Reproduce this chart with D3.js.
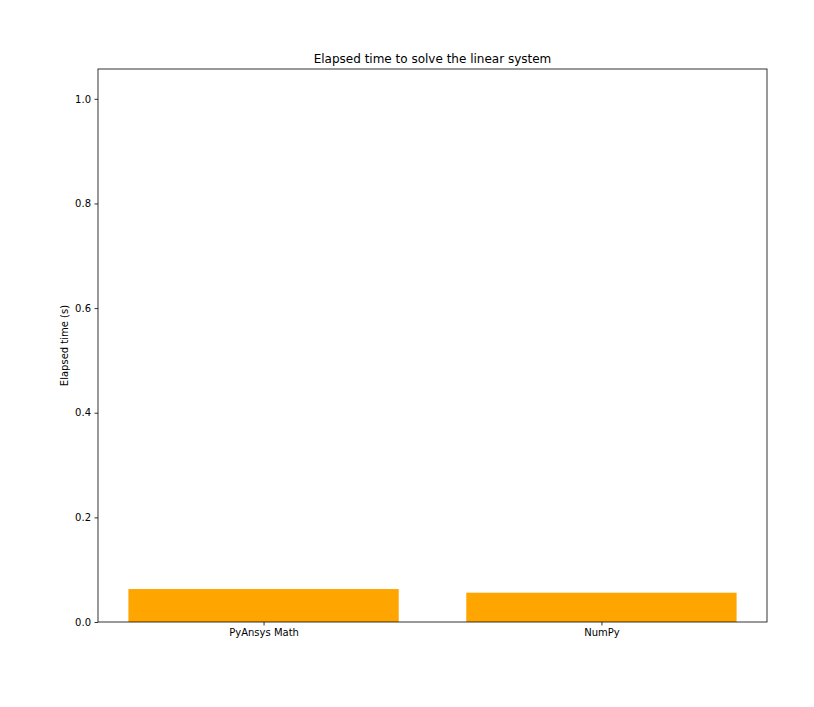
<!DOCTYPE html>
<html><head><meta charset="utf-8">
<script src="https://cdn.jsdelivr.net/npm/d3@7"></script>
<style>body{margin:0;background:#fff;} text{font-family:"DejaVu Sans",sans-serif;}</style>
</head><body>
<svg id="c" width="814" height="707"></svg>
<script>
const categories = ["PyAnsys Math", "NumPy"];
const values = [0.063, 0.056];
const yTicks = [0.0, 0.2, 0.4, 0.6, 0.8, 1.0];
const yMax = 1.057;

const svg = d3.select("#c");
const L = 98, R = 767, T = 69, B = 622;
const x = d3.scaleLinear().domain([-0.49, 1.49]).range([L, R]);
const y = d3.scaleLinear().domain([0, yMax]).range([B, T]);

svg.selectAll("rect.bar").data(values).enter().append("rect")
  .attr("class","bar")
  .attr("x",(d,i)=>x(i-0.4)).attr("width",(d,i)=>x(i+0.4)-x(i-0.4))
  .attr("y",d=>y(d)).attr("height",d=>y(0)-y(d))
  .attr("fill","#ffa500");

const yAxis = d3.axisLeft(y).tickValues(yTicks).tickFormat(d3.format(".1f")).tickSize(3.5).tickPadding(3.5);
const gy = svg.append("g").attr("transform",`translate(${L},0)`).call(yAxis);
const xAxis = d3.axisBottom(x).tickValues([0,1]).tickFormat(i=>categories[i]).tickSize(3.5).tickPadding(3.5);
const gx = svg.append("g").attr("transform",`translate(0,${B})`).call(xAxis);
[gx,gy].forEach(g=>{g.select(".domain").remove(); g.selectAll("text").attr("font-size",10).attr("fill","#000").attr("font-family","DejaVu Sans"); g.selectAll("line").attr("stroke","#000").attr("stroke-width",0.8);});

svg.append("rect").attr("x",L).attr("y",T).attr("width",R-L).attr("height",B-T)
  .attr("fill","none").attr("stroke","#000").attr("stroke-width",0.8);

svg.append("text").attr("x",(L+R)/2).attr("y",T-6).attr("text-anchor","middle")
  .attr("font-size",12).text("Elapsed time to solve the linear system");
svg.append("text").attr("transform",`translate(68,${(T+B)/2}) rotate(-90)`).attr("text-anchor","middle")
  .attr("font-size",10).text("Elapsed time (s)");
</script>
</body></html>
